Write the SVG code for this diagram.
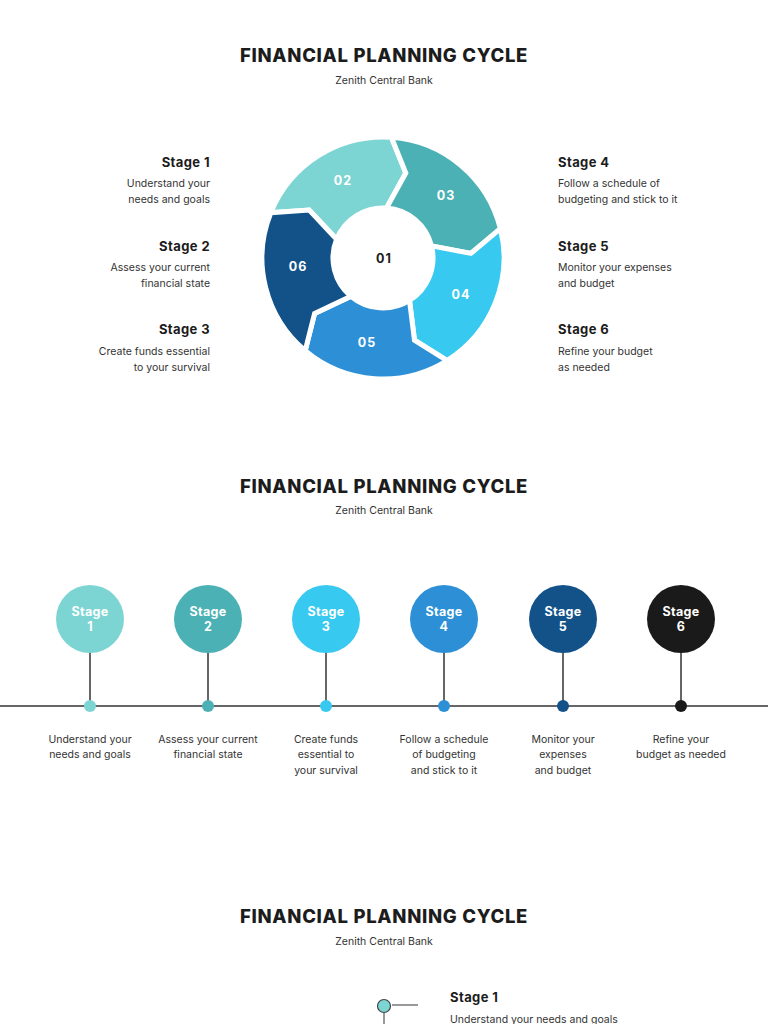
<svg xmlns="http://www.w3.org/2000/svg" width="768" height="1024" viewBox="0 0 768 1024">
<style>
.title{font-family:Inter,"Liberation Sans",sans-serif;font-weight:800;font-size:18.5px;fill:#1c1c1c;text-anchor:middle;letter-spacing:0.7px}
.sub{font-family:Inter,"Liberation Sans",sans-serif;font-size:10.5px;fill:#333;text-anchor:middle}
.sh{font-family:Inter,"Liberation Sans",sans-serif;font-weight:700;font-size:13px;fill:#1c1c1c;letter-spacing:0.4px}
.sd{font-family:Inter,"Liberation Sans",sans-serif;font-size:10.5px;fill:#333}
.num{font-family:Inter,"Liberation Sans",sans-serif;font-weight:700;font-size:12.5px;fill:#fff;text-anchor:middle;letter-spacing:1px}
.seg{stroke:#fff;stroke-width:5;stroke-linejoin:miter}
.cl{font-family:Inter,"Liberation Sans",sans-serif;font-weight:700;font-size:12.5px;fill:#fff;text-anchor:middle;letter-spacing:0.3px}
.td{font-family:Inter,"Liberation Sans",sans-serif;font-size:10.5px;fill:#333;text-anchor:middle}
.stem{stroke:#333;stroke-width:1.5}
</style>
<rect width="768" height="1024" fill="#fff"/>

<g id="section1">
<text class="title" x="384" y="62">FINANCIAL PLANNING CYCLE</text>
<text class="sub" x="384" y="84">Zenith Central Bank</text>
</g>

<g id="cycle">
<g id="seg02"><path class="seg" fill="#7dd5d3" d="M270.8,212.7 A121,121 0 0 1 391.4,137.3 L405.8,173.0 L386.5,208.1 A50,50 0 0 0 336.6,239.3 L309.2,210.1 Z"/><text class="num" x="343" y="185">02</text></g>
<g id="seg03"><path class="seg" fill="#4bb1b4" d="M391.4,137.3 A121,121 0 0 1 500.4,228.7 L470.9,253.4 L431.5,245.9 A50,50 0 0 0 386.5,208.1 L405.8,173.0 Z"/><text class="num" x="446" y="200">03</text></g>
<g id="seg04"><path class="seg" fill="#38c9f0" d="M500.4,228.7 A121,121 0 0 1 447.1,360.6 L414.5,340.2 L409.5,300.4 A50,50 0 0 0 431.5,245.9 L470.9,253.4 Z"/><text class="num" x="461" y="299">04</text></g>
<g id="seg05"><path class="seg" fill="#2d90d6" d="M447.1,360.6 A121,121 0 0 1 305.2,350.7 L314.6,313.4 L350.9,296.3 A50,50 0 0 0 409.5,300.4 L414.5,340.2 Z"/><text class="num" x="367" y="347">05</text></g>
<g id="seg06"><path class="seg" fill="#135289" d="M305.2,350.7 A121,121 0 0 1 270.8,212.7 L309.2,210.1 L336.6,239.3 A50,50 0 0 0 350.9,296.3 L314.6,313.4 Z"/><text class="num" x="298" y="271">06</text></g>
<g id="center01"><text class="num" x="384" y="263" style="fill:#1c1c1c">01</text></g>
</g>

<g id="left-stages">
<g id="s1"><text class="sh" x="210" y="167" text-anchor="end">Stage 1</text><text class="sd" x="210" y="187" text-anchor="end">Understand your</text><text class="sd" x="210" y="203" text-anchor="end">needs and goals</text></g>
<g id="s2"><text class="sh" x="210" y="251" text-anchor="end">Stage 2</text><text class="sd" x="210" y="271" text-anchor="end">Assess your current</text><text class="sd" x="210" y="287" text-anchor="end">financial state</text></g>
<g id="s3"><text class="sh" x="210" y="334" text-anchor="end">Stage 3</text><text class="sd" x="210" y="355" text-anchor="end">Create funds essential</text><text class="sd" x="210" y="371" text-anchor="end">to your survival</text></g>
</g>
<g id="right-stages">
<g id="s4"><text class="sh" x="558" y="167">Stage 4</text><text class="sd" x="558" y="187">Follow a schedule of</text><text class="sd" x="558" y="203">budgeting and stick to it</text></g>
<g id="s5"><text class="sh" x="558" y="251">Stage 5</text><text class="sd" x="558" y="271">Monitor your expenses</text><text class="sd" x="558" y="287">and budget</text></g>
<g id="s6"><text class="sh" x="558" y="334">Stage 6</text><text class="sd" x="558" y="355">Refine your budget</text><text class="sd" x="558" y="371">as needed</text></g>
</g>

<g id="section2">
<text class="title" x="384" y="493">FINANCIAL PLANNING CYCLE</text>
<text class="sub" x="384" y="514">Zenith Central Bank</text>
</g>

<g id="connectors">
<line x1="0" y1="706" x2="768" y2="706" stroke="#666" stroke-width="1.8"/>
<line class="stem" x1="90" y1="650" x2="90" y2="706"/>
<line class="stem" x1="208" y1="650" x2="208" y2="706"/>
<line class="stem" x1="326" y1="650" x2="326" y2="706"/>
<line class="stem" x1="444" y1="650" x2="444" y2="706"/>
<line class="stem" x1="563" y1="650" x2="563" y2="706"/>
<line class="stem" x1="681" y1="650" x2="681" y2="706"/>
<line x1="392" y1="1005" x2="418" y2="1005" stroke="#555" stroke-width="1.2"/>
<line x1="384" y1="1013" x2="384" y2="1024" stroke="#555" stroke-width="1.2"/>
</g>

<g id="t1"><circle cx="90" cy="619" r="34" fill="#7dd5d3"/><text class="cl" x="90" y="616">Stage</text><text class="cl" x="90" y="631">1</text><circle cx="90" cy="706" r="6" fill="#7dd5d3"/><text class="td" x="90" y="743">Understand your</text><text class="td" x="90" y="758">needs and goals</text></g>
<g id="t2"><circle cx="208" cy="619" r="34" fill="#4bb1b4"/><text class="cl" x="208" y="616">Stage</text><text class="cl" x="208" y="631">2</text><circle cx="208" cy="706" r="6" fill="#4bb1b4"/><text class="td" x="208" y="743">Assess your current</text><text class="td" x="208" y="758">financial state</text></g>
<g id="t3"><circle cx="326" cy="619" r="34" fill="#38c9f0"/><text class="cl" x="326" y="616">Stage</text><text class="cl" x="326" y="631">3</text><circle cx="326" cy="706" r="6" fill="#38c9f0"/><text class="td" x="326" y="743">Create funds</text><text class="td" x="326" y="758">essential to</text><text class="td" x="326" y="774">your survival</text></g>
<g id="t4"><circle cx="444" cy="619" r="34" fill="#2d90d6"/><text class="cl" x="444" y="616">Stage</text><text class="cl" x="444" y="631">4</text><circle cx="444" cy="706" r="6" fill="#2d90d6"/><text class="td" x="444" y="743">Follow a schedule</text><text class="td" x="444" y="758">of budgeting</text><text class="td" x="444" y="774">and stick to it</text></g>
<g id="t5"><circle cx="563" cy="619" r="34" fill="#135289"/><text class="cl" x="563" y="616">Stage</text><text class="cl" x="563" y="631">5</text><circle cx="563" cy="706" r="6" fill="#135289"/><text class="td" x="563" y="743">Monitor your</text><text class="td" x="563" y="758">expenses</text><text class="td" x="563" y="774">and budget</text></g>
<g id="t6"><circle cx="681" cy="619" r="34" fill="#1a1a1a"/><text class="cl" x="681" y="616">Stage</text><text class="cl" x="681" y="631">6</text><circle cx="681" cy="706" r="6" fill="#1a1a1a"/><text class="td" x="681" y="743">Refine your</text><text class="td" x="681" y="758">budget as needed</text></g>

<g id="section3">
<text class="title" x="384" y="923">FINANCIAL PLANNING CYCLE</text>
<text class="sub" x="384" y="945">Zenith Central Bank</text>
</g>
<g id="b1"><circle cx="384" cy="1006" r="6.5" fill="#7dd5d3" stroke="#444" stroke-width="1.2"/><text class="sh" x="450" y="1002">Stage 1</text><text class="sd" x="450" y="1023">Understand your needs and goals</text></g>
</svg>
